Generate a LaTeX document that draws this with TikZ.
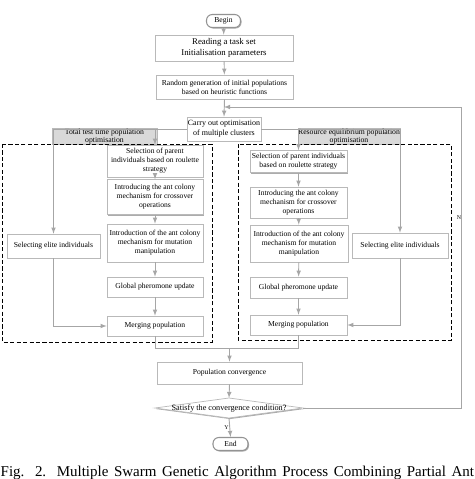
\documentclass[tikz,border=0pt]{standalone}
\usepackage{fontspec}
\setmainfont{Liberation Serif}
\usepackage{tikz}
\usetikzlibrary{arrows,calc,positioning,shadows}

\newcommand{\pxl}{0.03cm}
\tikzset{
  wh/.style 2 args={minimum width=#1*\pxl, minimum height=#2*\pxl},
  box/.style={draw=gray!55, line width=0.6pt, fill=white,
    drop shadow={shadow xshift=0.9pt, shadow yshift=-0.9pt, fill=gray!65, opacity=1},
    align=center, inner sep=0.5pt, font=\fontsize{6.5}{7.7}\selectfont},
  pill/.style={box, rounded corners=5pt, draw=gray!85, line width=0.9pt},
  tag/.style={draw=gray!55, fill=gray!30, align=center, inner sep=0.3pt, font=\fontsize{6.6}{7.4}\selectfont},
  flow/.style={draw=gray!70, line width=0.8pt, -latex},
  link/.style={draw=gray!70, line width=0.8pt},
  cluster/.style={draw=black, dash pattern=on 3.5pt off 2pt, line width=0.8pt},
  ynlabel/.style={font=\fontsize{5}{5}\selectfont, inner sep=0.5pt}
}

\begin{document}
\begin{tikzpicture}[x=0.03cm, y=-0.03cm]
%Koordinaten in Pixeln des Bildes (474 x 479), y nach unten
\useasboundingbox (0,0) rectangle (474,479);

\node[pill, wh={34}{13}] (begin) at (223.5,21) {Begin};
\node[box, wh={138}{26}, font=\fontsize{7.5}{9.4}\selectfont] (read) at (224,48) {Reading a task set\\Initialisation parameters};
\node[box, wh={137}{24}] (rand) at (224.5,87) {Random generation of initial populations\\based on heuristic functions};
\node[box, wh={74}{24}, font=\fontsize{6.8}{8.4}\selectfont] (carry) at (224,129) {Carry out optimisation\\of multiple clusters};

%linker Cluster
\node[tag, wh={105}{16}] (tagl) at (104.5,136.5) {Total test time population\\optimisation};
\node[box, wh={96}{32}] (sel1) at (155,161) {Selection of parent\\individuals based on roulette\\strategy};
\node[box, wh={96}{35}] (cross1) at (155,197) {Introducing the ant colony\\mechanism for crossover\\operations};
\node[box, wh={96}{38}] (mut1) at (155,243) {Introduction of the ant colony\\mechanism for mutation\\manipulation};
\node[box, wh={96}{20}] (glob1) at (155,287) {Global pheromone update};
\node[box, wh={96}{20}] (merge1) at (155,326) {Merging population};
\node[box, wh={93}{24}] (elite1) at (53.5,246) {Selecting elite individuals};

%rechter Cluster
\node[tag, wh={102}{16}] (tagr) at (349,136.5) {Resource equilibrium population\\optimisation};
\node[box, wh={97}{22}] (sel2) at (298.5,161.5) {Selection of parent individuals\\based on roulette strategy};
\node[box, wh={97}{31}] (cross2) at (298.5,202.5) {Introducing the ant colony\\mechanism for crossover\\operations};
\node[box, wh={98}{37}] (mut2) at (299,243.5) {Introduction of the ant colony\\mechanism for mutation\\manipulation};
\node[box, wh={97}{21}] (glob2) at (298.5,287.5) {Global pheromone update};
\node[box, wh={97}{20}] (merge2) at (298.5,325) {Merging population};
\node[box, wh={96}{25}] (elite2) at (400,245.5) {Selecting elite individuals};

\draw[cluster] (2,144) rectangle (212,342);
\draw[cluster] (238,144) rectangle (451,340);

\node[box, wh={145}{22}] (conv) at (229.5,373) {Population convergence};
\draw[box] (155,408) -- (229,398) -- (303,408) -- (229,418) -- cycle;
\coordinate (condn) at (229,398);
\coordinate (conds) at (229,418);
\coordinate (conde) at (303,408);
\node[inner sep=0, font=\fontsize{7}{8}\selectfont] (cond) at (229,408) {Satisfy the convergence condition?};
\node[pill, wh={35}{13}] (end) at (230.5,444) {End};

%Verbindungen
\coordinate (loopin) at (224,107);
\coordinate (loopc) at (461,107);
\coordinate (join) at (229.5,348);
\foreach \a/\b in {begin/read, read/rand, sel1/cross1, cross1/mut1, mut1/glob1, glob1/merge1, sel2/cross2, cross2/mut2, mut2/glob2, glob2/merge2}{
\draw[flow] (\a) -- (\b);
}
\draw[flow] (rand.south) -- (carry.north);
\draw[flow] (carry.west) -| (elite1.north);
\draw[flow] (sel1.north |- carry.west) -- (sel1.north);
\draw[flow] (carry.east) -| (elite2.north);
\draw[flow] (sel2.north |- carry.east) -- (sel2.north);
\draw[flow] (elite1.south) |- (merge1.west);
\draw[flow] (elite2.south) |- (merge2.east);
\draw[link] (merge1.south) |- (join);
\draw[link] (merge2.south) |- (join);
\draw[flow] (join) -- (conv.north);
\draw[flow] (conv.south) -- (condn);
\draw[flow] (conds) -- node[ynlabel, left] (yes) {Y} (end.north);
\draw[flow] (conde) -| (loopc) -- (loopin);
\node[ynlabel] (no) at (459,218) {N};

\node[anchor=base west, inner sep=0, font=\fontsize{12.8}{14}\selectfont] (caption) at (0.5,476) {\makebox[14.2cm][s]{Fig. 2. Multiple Swarm Genetic Algorithm Process Combining Partial Ant}};
\end{tikzpicture}
\end{document}
